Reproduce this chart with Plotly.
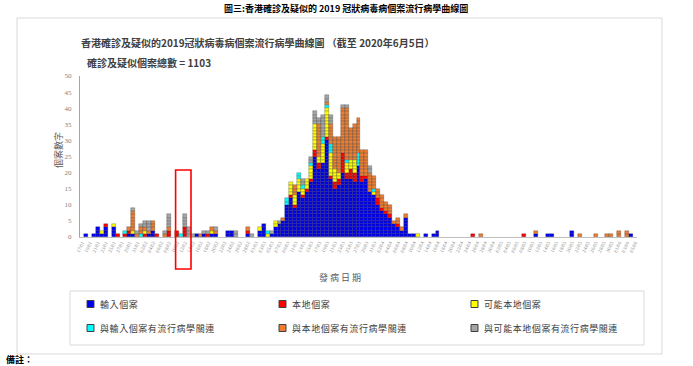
import plotly.graph_objects as go
import pandas as pd

# ---------------- data ----------------
start_date = "2020-01-17"
end_date = "2020-06-05"
dates = pd.date_range(start_date, end_date)
date_labels = [d.strftime("%d/%m") for d in dates]

categories = ["輸入個案", "本地個案", "可能本地個案",
              "與輸入個案有流行病學關連", "與本地個案有流行病學關連", "與可能本地個案有流行病學關連"]
colors = ["#0000F0", "#FF0000", "#FFFF00", "#00FFFF", "#ED7D31", "#A5A5A5"]

# daily counts, index 0 = 17/01 ... 140 = 05/06
imported = [
    0, 1, 0, 1, 3, 1, 3, 0, 3, 0,   # 17/01-26/01
    0, 0, 1, 1, 0, 0, 0, 1, 2, 0,   # 27/01-05/02
    0, 0, 0, 0, 0, 0, 0, 0, 0, 1,   # 06/02-15/02
    0, 1, 0, 1, 1, 0, 0, 2, 2, 0,   # 16/02-25/02
    0, 0, 1, 0, 0, 2, 4, 0, 1, 3,   # 26/02-06/03
    4, 5, 10, 12, 9, 14, 12, 14, 17, 25,   # 07/03-16/03
    21, 23, 30, 18, 15, 16, 20, 18, 18, 17,   # 17/03-26/03
    22, 17, 18, 14, 13, 10, 8, 7, 6, 4,   # 27/03-05/04
    3, 2, 6, 1, 1, 0, 0, 1, 0, 1,   # 06/04-15/04
    2, 0, 0, 0, 0, 0, 0, 0, 0, 0,   # 16/04-25/04
    0, 0, 0, 0, 0, 0, 0, 0, 0, 0,   # 26/04-05/05
    0, 0, 0, 0, 0, 1, 0, 0, 1, 1,   # 06/05-15/05
    0, 0, 0, 0, 2, 0, 0, 0, 0, 0,   # 16/05-25/05
    0, 0, 0, 0, 0, 0, 0, 0, 0, 1,   # 26/05-04/06
    0,                              # 05/06
]
local = [
    0, 0, 0, 0, 0, 0, 1, 0, 0, 1,
    0, 1, 1, 0, 0, 0, 1, 0, 0, 1,
    0, 0, 2, 0, 2, 0, 3, 0, 0, 0,
    0, 0, 1, 0, 0, 0, 0, 0, 0, 0,
    0, 0, 1, 0, 0, 0, 0, 0, 0, 0,
    0, 0, 0, 1, 1, 0, 1, 1, 1, 2,
    2, 0, 1, 1, 2, 2, 6, 2, 3, 3,
    0, 2, 1, 0, 0, 2, 1, 1, 1, 0,
    1, 0, 0, 0, 0, 0, 0, 0, 0, 0,
    0, 0, 0, 0, 0, 0, 0, 0, 0, 1,
    0, 0, 0, 0, 0, 0, 0, 0, 0, 0,
    0, 0, 1, 0, 0, 0, 0, 0, 0, 0,
    0, 0, 0, 0, 0, 0, 0, 0, 0, 0,
    0, 0, 0, 0, 0, 0, 0, 0, 0, 0,
    0,
]
possible_local = [
    0, 0, 0, 0, 0, 1, 0, 0, 1, 0,
    0, 0, 0, 1, 0, 0, 1, 0, 0, 0,
    0, 0, 0, 0, 0, 0, 0, 0, 0, 0,
    0, 0, 0, 1, 0, 0, 0, 0, 0, 0,
    0, 0, 0, 0, 0, 1, 0, 1, 0, 2,
    0, 0, 0, 4, 3, 4, 2, 3, 4, 8,
    2, 6, 9, 7, 4, 2, 0, 3, 3, 4,
    0, 0, 0, 0, 1, 0, 0, 0, 0, 0,
    0, 0, 0, 0, 0, 1, 0, 0, 0, 0,
    0, 0, 0, 0, 0, 0, 0, 0, 0, 0,
    0, 0, 0, 0, 0, 0, 0, 0, 0, 0,
    0, 0, 0, 0, 0, 0, 0, 0, 0, 0,
    0, 0, 0, 0, 0, 0, 0, 0, 0, 0,
    0, 0, 0, 0, 0, 0, 0, 0, 0, 0,
    0,
]
linked_imported = [
    0, 0, 0, 0, 0, 0, 0, 0, 0, 0,
    0, 1, 0, 0, 0, 1, 0, 0, 0, 0,
    0, 0, 0, 0, 0, 1, 0, 0, 0, 0,
    0, 0, 0, 0, 0, 0, 0, 0, 0, 0,
    0, 0, 0, 0, 0, 0, 0, 1, 0, 0,
    0, 0, 2, 0, 0, 2, 1, 0, 1, 0,
    0, 2, 1, 3, 0, 0, 0, 1, 0, 0,
    4, 0, 0, 0, 1, 0, 0, 0, 0, 0,
    0, 0, 0, 0, 0, 0, 0, 0, 0, 0,
    0, 0, 0, 0, 0, 0, 0, 0, 0, 0,
    0, 0, 0, 0, 0, 0, 0, 0, 0, 0,
    0, 0, 0, 0, 0, 0, 0, 0, 0, 0,
    0, 0, 0, 0, 0, 0, 0, 0, 0, 0,
    0, 0, 0, 0, 0, 0, 0, 0, 0, 0,
    0,
]
linked_local = [
    0, 0, 0, 0, 0, 0, 0, 0, 0, 0,
    0, 0, 1, 6, 1, 2, 1, 1, 3, 0,
    0, 1, 1, 0, 0, 0, 0, 0, 0, 0,
    1, 0, 0, 1, 1, 0, 0, 0, 0, 0,
    0, 0, 1, 0, 0, 0, 0, 0, 0, 0,
    0, 1, 0, 0, 3, 0, 0, 0, 0, 0,
    10, 0, 1, 6, 10, 11, 14, 16, 10, 11,
    11, 8, 8, 6, 4, 3, 4, 3, 3, 1,
    2, 1, 1, 0, 0, 0, 0, 0, 0, 0,
    0, 0, 0, 0, 0, 0, 0, 0, 0, 0,
    0, 1, 0, 0, 0, 0, 0, 0, 0, 0,
    0, 0, 0, 0, 0, 1, 0, 0, 0, 0,
    0, 0, 0, 0, 0, 0, 1, 0, 0, 0,
    1, 0, 0, 1, 1, 0, 2, 0, 2, 0,
    0,
]
linked_possible = [
    0, 0, 0, 0, 0, 0, 0, 0, 0, 0,
    0, 0, 0, 1, 1, 1, 2, 3, 0, 0,
    0, 1, 4, 0, 0, 0, 4, 3, 1, 0,
    0, 1, 1, 0, 1, 0, 0, 0, 0, 2,
    0, 0, 0, 1, 0, 0, 0, 0, 1, 0,
    1, 0, 0, 0, 0, 0, 2, 0, 2, 4,
    2, 7, 2, 3, 0, 0, 1, 1, 0, 0,
    0, 0, 0, 2, 0, 0, 0, 0, 0, 0,
    0, 0, 0, 0, 0, 0, 0, 0, 0, 0,
    0, 0, 0, 0, 0, 0, 0, 0, 0, 0,
    0, 0, 0, 0, 0, 0, 0, 0, 0, 0,
    0, 0, 0, 0, 0, 0, 0, 0, 0, 0,
    0, 0, 0, 0, 0, 0, 0, 0, 0, 0,
    0, 0, 0, 0, 0, 0, 0, 0, 0, 0,
    0,
]
series = [imported, local, possible_local, linked_imported, linked_local, linked_possible]

y_ticks = list(range(0, 55, 5))
total_cases = 1103

# ---------------- layout geometry (pixels) ----------------
W, H = 693, 366
ML, MR, MT, MB = 80, 56, 76, 129
PW, PH = W - ML - MR, H - MT - MB


def px(x):
    return (x - ML) / PW


def py(y):
    return 1 - (y - MT) / PH


def spaced(s):
    return "\u200a".join(s)


fig = go.Figure()

# each case drawn as one unit cell, stacked in category order
base = [0] * len(dates)
for name, col, vals in zip(categories, colors, series):
    xs, bs = [], []
    for i, v in enumerate(vals):
        for k in range(v):
            xs.append(i)
            bs.append(base[i] + k)
        base[i] += v
    fig.add_trace(go.Bar(
        x=xs, y=[1] * len(xs), base=bs, name=name, width=1,
        marker=dict(color=col, line=dict(color="rgba(40,40,40,0.55)", width=0.5)),
        showlegend=False, hoverinfo="skip",
    ))

serif = "Liberation Serif, Noto Sans CJK TC"
cjk = "Noto Sans CJK TC, Liberation Serif"

fig.update_layout(
    width=W, height=H, barmode="overlay", bargap=0,
    margin=dict(l=ML, r=MR, t=MT, b=MB, pad=0),
    paper_bgcolor="white", plot_bgcolor="white",
    xaxis=dict(
        range=[-0.5, len(dates) - 0.5], tickmode="array",
        tickvals=list(range(0, len(dates), 2)),
        ticktext=[date_labels[i] for i in range(0, len(dates), 2)],
        tickangle=-65, tickfont=dict(size=5, color="#8c8c8c", family=serif),
        showline=True, linecolor="#bfbfbf", linewidth=1, showgrid=False,
        ticks="", zeroline=False, fixedrange=True,
    ),
    yaxis=dict(
        range=[0, 50], tickvals=y_ticks, tickfont=dict(size=7, color="#7f7f7f", family=serif),
        showline=True, linecolor="#a6a6a6", linewidth=1, showgrid=False,
        ticks="", zeroline=False, ticklabelstandoff=6,
    ),
)

shapes = []
# outer frame
shapes.append(dict(type="rect", xref="paper", yref="paper", x0=px(17), x1=px(662), y0=py(18), y1=py(354),
                   line=dict(color="#d9d9d9", width=1), layer="below"))
# legend frame
shapes.append(dict(type="rect", xref="paper", yref="paper", x0=px(70), x1=px(644), y0=py(291), y1=py(345),
                   line=dict(color="#d9d9d9", width=1)))
# red highlight box around days 24-27
day0, day1 = 23.7, 27.6
bx0 = ML + (day0 + 0.5) * PW / len(dates)
bx1 = ML + (day1 + 0.5) * PW / len(dates)
shapes.append(dict(type="rect", xref="paper", yref="paper", x0=px(bx0), x1=px(bx1), y0=py(170), y1=py(269),
                   line=dict(color="#FF0000", width=1.6)))

annotations = []
# legend entries
leg_pos = [(90, 304), (282, 304), (474, 304), (90, 328), (282, 328), (474, 328)]
for (lx, ly), name, col in zip(leg_pos, categories, colors):
    shapes.append(dict(type="rect", xref="paper", yref="paper", x0=px(lx - 3), x1=px(lx + 4),
                       y0=py(ly + 3.5), y1=py(ly - 3.5), fillcolor=col, line=dict(color="#404040", width=1)))
    annotations.append(dict(xref="paper", yref="paper", x=px(lx + 8), y=py(ly), text=spaced(name), showarrow=False,
                            xanchor="left", yanchor="middle", font=dict(size=9, color="#404040", family=cjk)))

annotations += [
    dict(xref="paper", yref="paper", x=px(346), y=py(8), text="<b>圖三:香港確診及疑似的 2019 冠狀病毒病個案流行病學曲線圖</b>",
         showarrow=False, xanchor="center", yanchor="middle", font=dict(size=9, color="black", family=cjk)),
    dict(xref="paper", yref="paper", x=px(79), y=py(43),
         text="<b>香港確診及疑似的2019冠狀病毒病個案流行病學曲線圖 （截至 2020年6月5日）</b>",
         showarrow=False, xanchor="left", yanchor="middle", font=dict(size=10, color="#404040", family=cjk)),
    dict(xref="paper", yref="paper", x=px(85), y=py(63), text=f"<b>確診及疑似個案總數 = {total_cases}</b>",
         showarrow=False, xanchor="left", yanchor="middle", font=dict(size=10, color="#404040", family=cjk)),
    dict(xref="paper", yref="paper", x=px(58), y=py(150), text="個案數字", textangle=-90,
         showarrow=False, xanchor="center", yanchor="middle", font=dict(size=9, color="#595959", family=cjk)),
    dict(xref="paper", yref="paper", x=px(340), y=py(277), text="發 病 日 期",
         showarrow=False, xanchor="center", yanchor="middle", font=dict(size=9, color="#595959", family=cjk)),
    dict(xref="paper", yref="paper", x=px(4), y=py(359), text="<b>備註：</b>",
         showarrow=False, xanchor="left", yanchor="middle", font=dict(size=9, color="black", family=cjk)),
]

fig.update_layout(shapes=shapes, annotations=annotations)
fig.write_html("out.html")
